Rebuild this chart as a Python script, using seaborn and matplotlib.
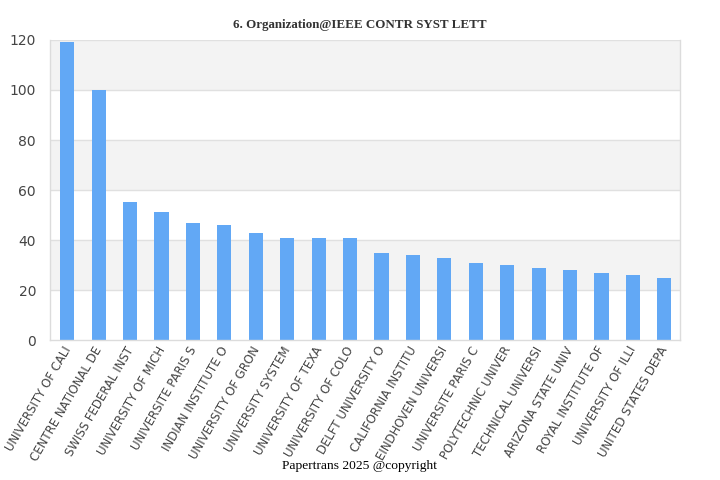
import matplotlib
matplotlib.use("Agg")
import numpy as np
import pandas as pd
import seaborn as sns
from matplotlib import pyplot as plt
from matplotlib.transforms import ScaledTranslation

organizations = [
    "UNIVERSITY OF CALI", "CENTRE NATIONAL DE", "SWISS FEDERAL INST", "UNIVERSITY OF MICH",
    "UNIVERSITE PARIS S", "INDIAN INSTITUTE O", "UNIVERSITY OF GRON", "UNIVERSITY SYSTEM",
    "UNIVERSITY OF TEXA", "UNIVERSITY OF COLO", "DELFT UNIVERSITY O", "CALIFORNIA INSTITU",
    "EINDHOVEN UNIVERSI", "UNIVERSITE PARIS C", "POLYTECHNIC UNIVER", "TECHNICAL UNIVERSI",
    "ARIZONA STATE UNIV", "ROYAL INSTITUTE OF", "UNIVERSITY OF ILLI", "UNITED STATES DEPA",
]
counts = [119, 100, 55, 51, 47, 46, 43, 41, 41, 41, 35, 34, 33, 31, 30, 29, 28, 27, 26, 25]
y_ticks = [0, 20, 40, 60, 80, 100, 120]

sns.set_theme(style="white")
plt.rcParams['font.family'] = ['DejaVu Sans']

df = pd.DataFrame({"org": organizations, "count": counts})

fig = plt.figure(figsize=(7.2, 4.8), dpi=100)
ax = fig.add_axes([50 / 720, 140 / 480, 630 / 720, 300 / 480])

# alternating bands
for i in range(len(y_ticks) - 1):
    if i % 2 == 1:
        ax.axhspan(y_ticks[i], y_ticks[i + 1], color="#f3f3f3", zorder=0, lw=0)
for t in y_ticks[1:]:
    ax.axhline(t, color="#e0e0e0", lw=1, zorder=1)

sns.barplot(data=df, x="org", y="count", color="#62a8f5", saturation=1, width=0.45,
            linewidth=0, edgecolor="none", ax=ax, zorder=2)

ax.set_xlim(-0.55, len(organizations) - 0.5)
ax.set_ylim(0, 120)
ax.set_yticks(y_ticks)
ax.set_xlabel("")
ax.set_ylabel("")
ax.tick_params(axis="y", labelsize=10, colors="#444444", length=0, pad=10)
ax.tick_params(axis="x", length=0, pad=3)
ax.set_xticks(range(len(organizations)))
ax.set_xticklabels(organizations, rotation=60, ha="right", rotation_mode="anchor",
                   fontsize=8.5, color="#444444")
shift = ScaledTranslation(-5 / 100, 0, fig.dpi_scale_trans)
for lbl in ax.get_xticklabels():
    lbl.set_transform(lbl.get_transform() + shift)

for side in ["top"]:
    ax.spines[side].set_visible(False)
for side in ["right", "bottom", "left"]:
    ax.spines[side].set_color("#dcdcdc")
    ax.spines[side].set_linewidth(1)

fig.text(0.5, 1 - 25 / 480, "6. Organization@IEEE CONTR SYST LETT", ha="center", va="center",
         fontsize=9.4, fontweight="bold", family="Liberation Serif", color="#333333")
fig.text(0.5, 1 - 466 / 480, "Papertrans 2025 @copyright", ha="center", va="center",
         fontsize=9.7, family="Liberation Serif", color="black")

fig.savefig("out.png", dpi=100)
